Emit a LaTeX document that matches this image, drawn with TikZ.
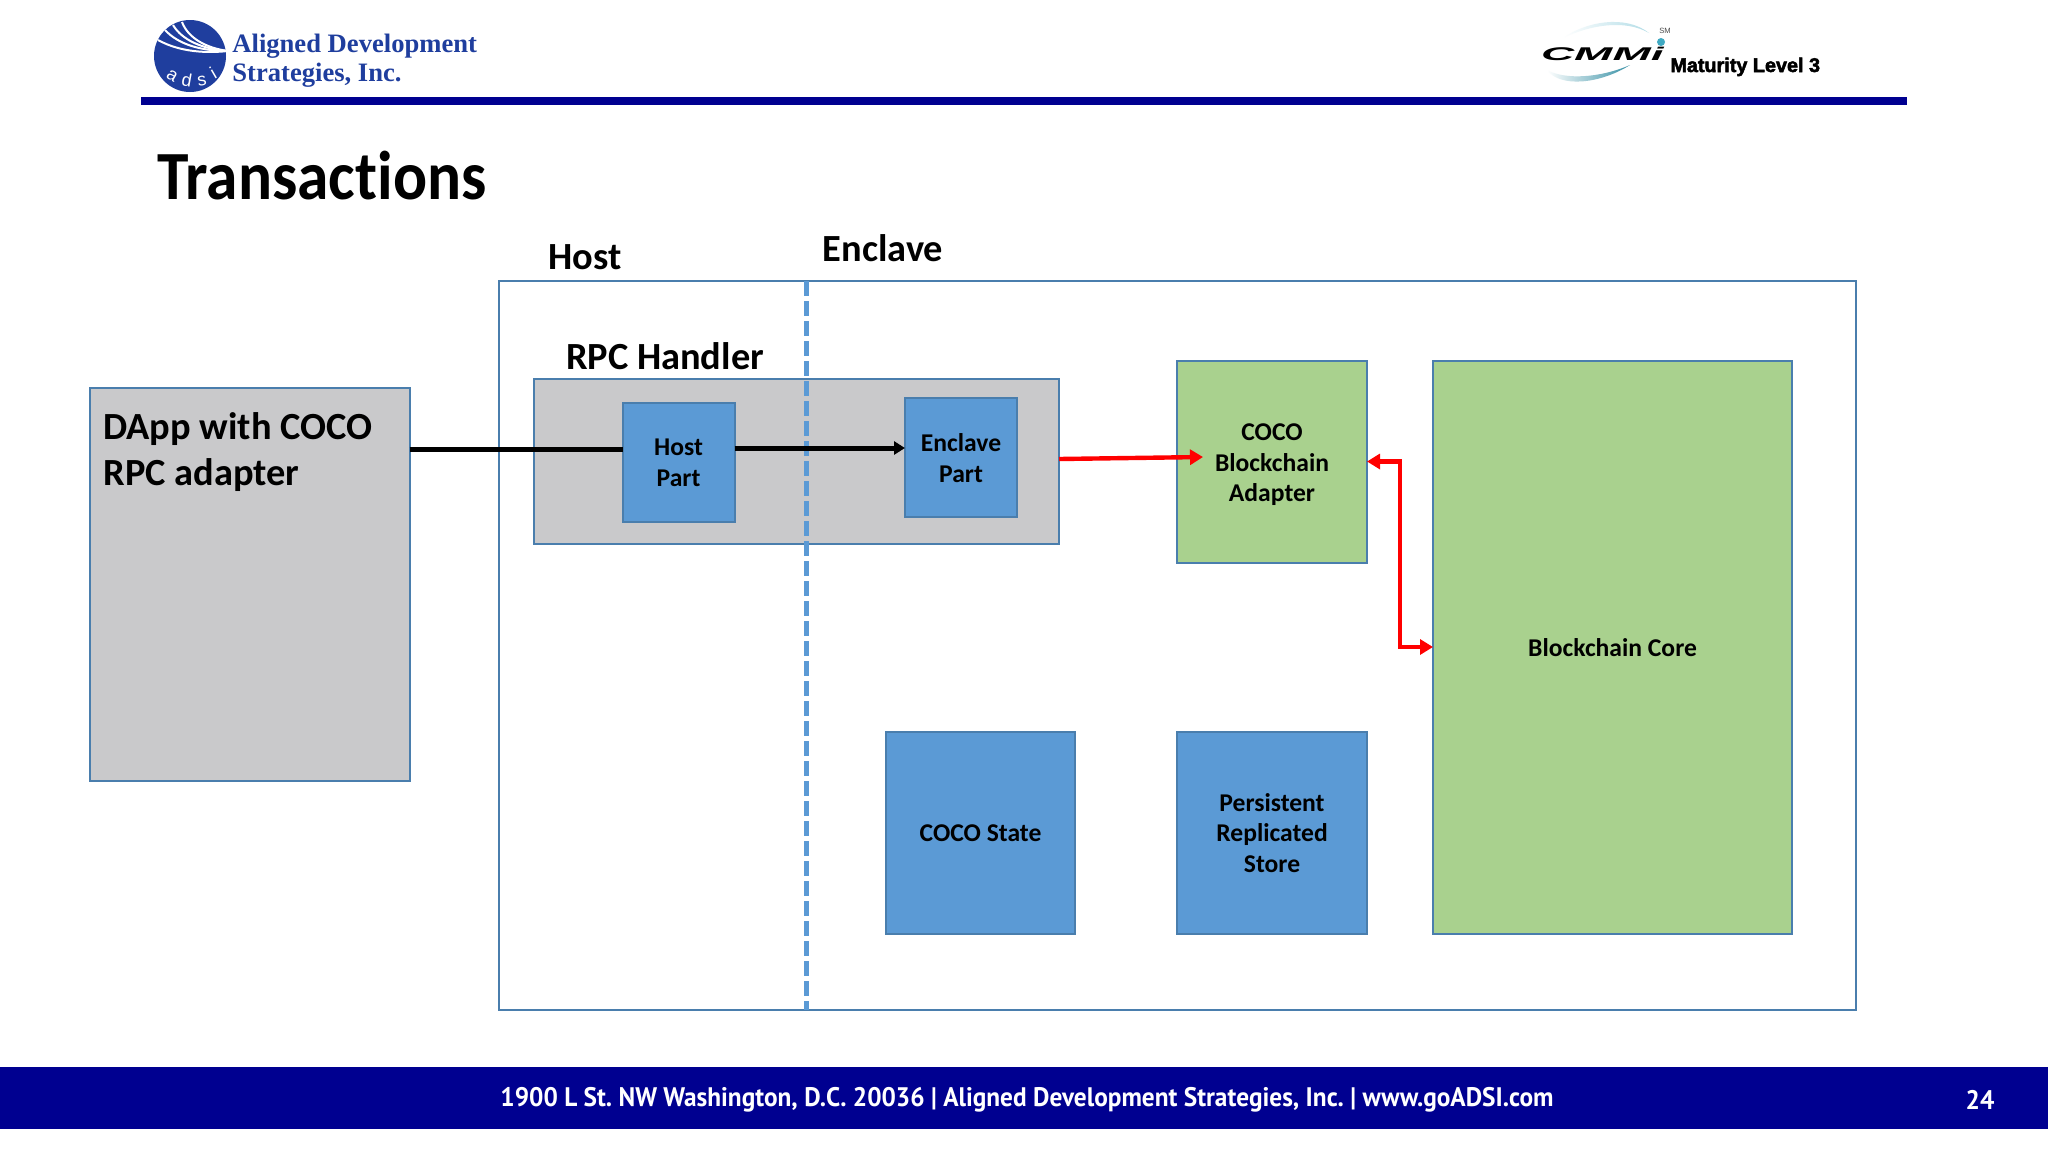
\documentclass[tikz,border=0pt]{standalone}
\usepackage{fontspec}
\usetikzlibrary{arrows.meta,calc}
\setmainfont[Ligatures=NoCommon]{Carlito}
\newfontfamily\serifb{Liberation Serif}
\newfontfamily\sansb{Liberation Sans}
\newfontfamily\sansheavy[FakeBold=2.5]{Liberation Sans Bold}
\newfontfamily\footfont[FakeStretch=0.945]{PT Sans}
\newfontfamily\titlefont[FakeStretch=0.92,Ligatures=NoCommon]{Carlito}
\newcommand{\fsz}[2]{\fontsize{#1}{#2}\selectfont\bfseries}
\definecolor{bordercol}{HTML}{4A7EAD}
\definecolor{bluefill}{HTML}{5B9AD5}
\definecolor{greenfill}{HTML}{A9D18E}
\definecolor{greyfill}{HTML}{C9C9CB}
\definecolor{navy}{HTML}{000090}
\definecolor{logoblue}{HTML}{1F3E9E}
\definecolor{teal}{HTML}{3FA9C2}
\tikzset{
  box/.style={draw=bordercol,line width=1pt,inner sep=0pt,outer sep=0pt,align=center,text=black},
  bluebox/.style={box,fill=bluefill},
  greenbox/.style={box,fill=greenfill},
  greybox/.style={box,fill=greyfill},
  boxtext/.style={inner sep=0pt,align=center,text=black,yshift=-0.25pt,font=\fsz{12.8}{15.3}},
  headlabel/.style={inner sep=0pt,text=black,font=\fsz{19.2}{23}},
  redline/.style={draw=red,line width=2.2pt,-{Triangle[length=6.5pt,width=7.5pt]}},
  blackline/.style={draw=black,line width=2.5pt},
  adsil/.style={inner sep=0pt,text=white,font=\sansb\fontsize{9}{9}\selectfont},
}
\begin{document}
\begin{tikzpicture}[x=0.5pt,y=-0.5pt]
\frenchspacing
\useasboundingbox (0,0) rectangle (2048,1152);
\fill[white] (0,0) rectangle (2048,1152);
% header
\fill[navy] (141,97) rectangle (1907,105);
\fill[logoblue] (190,56) circle (36);
\begin{scope}
\clip (190,56) circle (36);
\draw[white,line width=1pt] (158,40) .. controls (176,50) and (200,54) .. (228,51);
\draw[white,line width=1pt] (165,30) .. controls (178,44) and (200,51) .. (228,51);
\draw[white,line width=1pt] (173,25) .. controls (182,40) and (202,49) .. (228,51);
\draw[white,line width=1pt] (182,22) .. controls (188,38) and (206,48) .. (228,51);
\end{scope}
\node[adsil,rotate=-30] (la) at (172,76) {a};
\node[adsil,rotate=-10] (ld) at (187,80) {d};
\node[adsil,rotate=10] (ls) at (202,81) {s};
\node[adsil,rotate=30] (li) at (213,73) {i};
\node[anchor=base west,inner sep=0pt,text=logoblue,font=\serifb\fsz{13.3}{15}] (co1) at (232,52) {Aligned Development};
\node[anchor=base west,inner sep=0pt,text=logoblue,font=\serifb\fsz{13.3}{15}] (co2) at (232,81) {Strategies, Inc.};
\shade[left color=white,middle color=teal!85!black,right color=white!60!teal] (1563,38) .. controls (1585,22) and (1625,14) .. (1649,33) .. controls (1625,19) and (1590,25) .. (1563,38) -- cycle;
\shade[left color=white,middle color=teal!70,right color=teal!85!black] (1547,70) .. controls (1560,88) and (1600,84) .. (1630,65) .. controls (1600,78) and (1565,80) .. (1547,70) -- cycle;
\node[anchor=base west,inner sep=0pt,xscale=2.5,transform shape,font=\sansb\itshape\fsz{9.2}{10}] (cmmi) at (1540,60) {CMMi};
\fill[teal] (1661,42) circle (4);
\node[inner sep=0pt,text=black!70,font=\sansb\fontsize{3.8}{4}\selectfont] (sm) at (1665,31) {SM};
\node[anchor=base west,inner sep=0pt,font=\sansheavy\fontsize{9.9}{10}\selectfont] (ml) at (1670,72) {Maturity Level 3};
% title
\node[anchor=west,inner sep=0pt,font=\titlefont\fsz{34.5}{38}] (title) at (157,176) {Transactions};
% boxes
\node[box,minimum width=678.5pt,minimum height=364.5pt] (outer) at (1177.5,645.5) {};
\node[greybox,minimum width=160pt,minimum height=196.5pt] (dapp) at (249.5,584) {};
\node[greybox,minimum width=262.5pt,minimum height=82.5pt] (handler) at (796.5,461.5) {};
\node[bluebox,minimum width=56pt,minimum height=59.5pt] (host) at (678.5,462) {};
\node[bluebox,minimum width=56pt,minimum height=59.5pt] (enclave) at (961,457.5) {};
\node[greenbox,minimum width=95pt,minimum height=101pt] (adapter) at (1272,461.5) {};
\node[greenbox,minimum width=179.5pt,minimum height=286.5pt] (core) at (1612.5,647) {};
\node[bluebox,minimum width=94.5pt,minimum height=101pt] (state) at (980.5,832.5) {};
\node[bluebox,minimum width=95pt,minimum height=101pt] (store) at (1272,832.5) {};
\node[boxtext] (hosttext) at (host) {Host\\Part};
\node[boxtext] (enclavetext) at (enclave) {Enclave\\Part};
\node[boxtext] (adaptertext) at (1272,464.5) {COCO\\Blockchain\\Adapter};
\node[boxtext] (coretext) at (core) {Blockchain Core};
\node[boxtext] (statetext) at (state) {COCO State};
\node[boxtext] (storetext) at (store) {Persistent\\Replicated\\Store};
% labels
\node[headlabel] (hostlabel) at (585,257) {Host};
\node[headlabel] (enclavelabel) at (883,248) {Enclave};
\node[headlabel] (rpclabel) at (665,356) {RPC Handler};
\node[anchor=north west,inner sep=0pt,align=left,font=\fsz{19.2}{23}] (dapplabel) at (103,412) {DApp with COCO\\RPC adapter};
% divider
\coordinate (divtop) at (806,281);
\coordinate (divbot) at (806,1010);
\draw[draw=bluefill,line width=2.5pt,dash pattern=on 7.5pt off 2.5pt] (divtop) -- (divbot);
% connectors
\coordinate (ya) at (0,449);
\coordinate (yb) at (0,448);
\draw[blackline] (dapp.east|-ya) -- (host.west|-ya);
\draw[blackline,-{Triangle[length=5.5pt,width=6.5pt]}] (host.east|-yb) -- (enclave.west|-yb);
\coordinate (redtip) at (1203,457);
\draw[redline] ($(handler.east)+(0,-2.5)$) -- (redtip);
\coordinate (bend) at (1400,0);
\draw[redline,{Triangle[length=6.5pt,width=7.5pt]}-{Triangle[length=6.5pt,width=7.5pt]}] (adapter.east) -- (bend|-adapter.east) -- (bend|-core.west) -- (core.west);
% footer
\fill[navy] (0,1067) rectangle (2048,1129);
\node[inner sep=0pt,text=white,font=\footfont\fsz{13.4}{18}] (foot) at (1027,1100) {1900 L St. NW Washington, D.C. 20036 | Aligned Development Strategies, Inc. | www.goADSI.com};
\node[inner sep=0pt,text=white,font=\footfont\fsz{13.4}{18}] (page) at (1980,1100) {24};
\end{tikzpicture}
\end{document}
